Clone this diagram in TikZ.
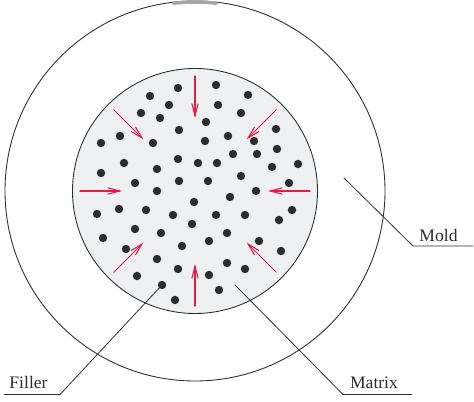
\documentclass[tikz,border=0pt]{standalone}
\usepackage{fontspec}
\setmainfont{Liberation Serif}
\usetikzlibrary{arrows.meta}
\definecolor{flowred}{RGB}{226,28,70}
\definecolor{matrixgray}{RGB}{239,240,242}
\definecolor{inkgray}{RGB}{45,45,45}
\tikzset{
  wall/.style={draw=inkgray,line width=0.5pt},
  leader/.style={draw=inkgray,line width=0.45pt},
  flow/.style={flowred,line width=0.6pt,-{Straight Barb[length=7pt,width=3.6pt]}},
  filler/.style={fill=inkgray},
  lbl/.style={text=inkgray,font=\fontsize{10}{12}\selectfont,anchor=base,inner sep=0pt}
}
\begin{document}
\begin{tikzpicture}[x=0.02cm,y=-0.02cm, line join=round, line cap=round]
	\useasboundingbox (0,0) rectangle (474,402);
	\coordinate (c) at (195,191);
	% mold and matrix
	\draw[wall] (c) circle (190);
	\draw[gray!70,line width=2pt] ([shift={(c)}]263.5:189) arc (263.5:276.5:189);
	\draw[wall,fill=matrixgray] (c) circle (122.5);
	% flow arrows
	\foreach \a in {0,45,...,315}{
		\draw[flow,shift={(c)}] (\a:115) -- (\a:73);}
	% leaders
	\coordinate (fillerdot) at (162,285);
	\coordinate (matrixtip) at (235,285);
	\coordinate (moldtip) at (344,178);
	\node[lbl] (mold) at (438.5,241.5) {Mold};
	\node[lbl] (matrix) at (374,389) {Matrix};
	\node[lbl] (filler) at (28.5,389) {Filler};
	\coordinate (moldknee) at (413,246);
	\coordinate (moldend) at (473,246);
	\coordinate (matrixknee) at (343,394.5);
	\coordinate (matrixend) at (412,394.5);
	\coordinate (fillerknee) at (60,394.5);
	\coordinate (fillerend) at (4,394.5);
	\draw[leader] (moldtip) -- (moldknee) -- (moldend);
	\draw[leader] (matrixtip) -- (matrixknee) -- (matrixend);
	\draw[leader] (fillerdot) -- (fillerknee) -- (fillerend);
	% filler particles
	\foreach \x/\y in {178/88,216/85,150/96,248/95,169/105,218/105,141/113,241/113,
		160/118,206/122,179/130,276/129,120/136,228/136,101/143,153/143,205/141,
		254/141,277/149,233/154,257/154,124/163,178/159,198/163,217/163,298/164,
		272/167,101/173,157/169,241/176,135/183,179/181,208/181,289/183,157/191,
		256/191,194/202,230/197,97/214,119/209,146/210,173/215,216/215,245/215,
		292/210,279/220,192/224,135/229,227/233,161/233,103/238,209/241,182/246,
		259/241,126/249,281/251,157/259,227/263,178/269,245/269,137/276,209/275,
		162/285,219/290,175/300}{
		\fill[filler] (\x,\y) circle[radius=2.4pt];}
\end{tikzpicture}
\end{document}
